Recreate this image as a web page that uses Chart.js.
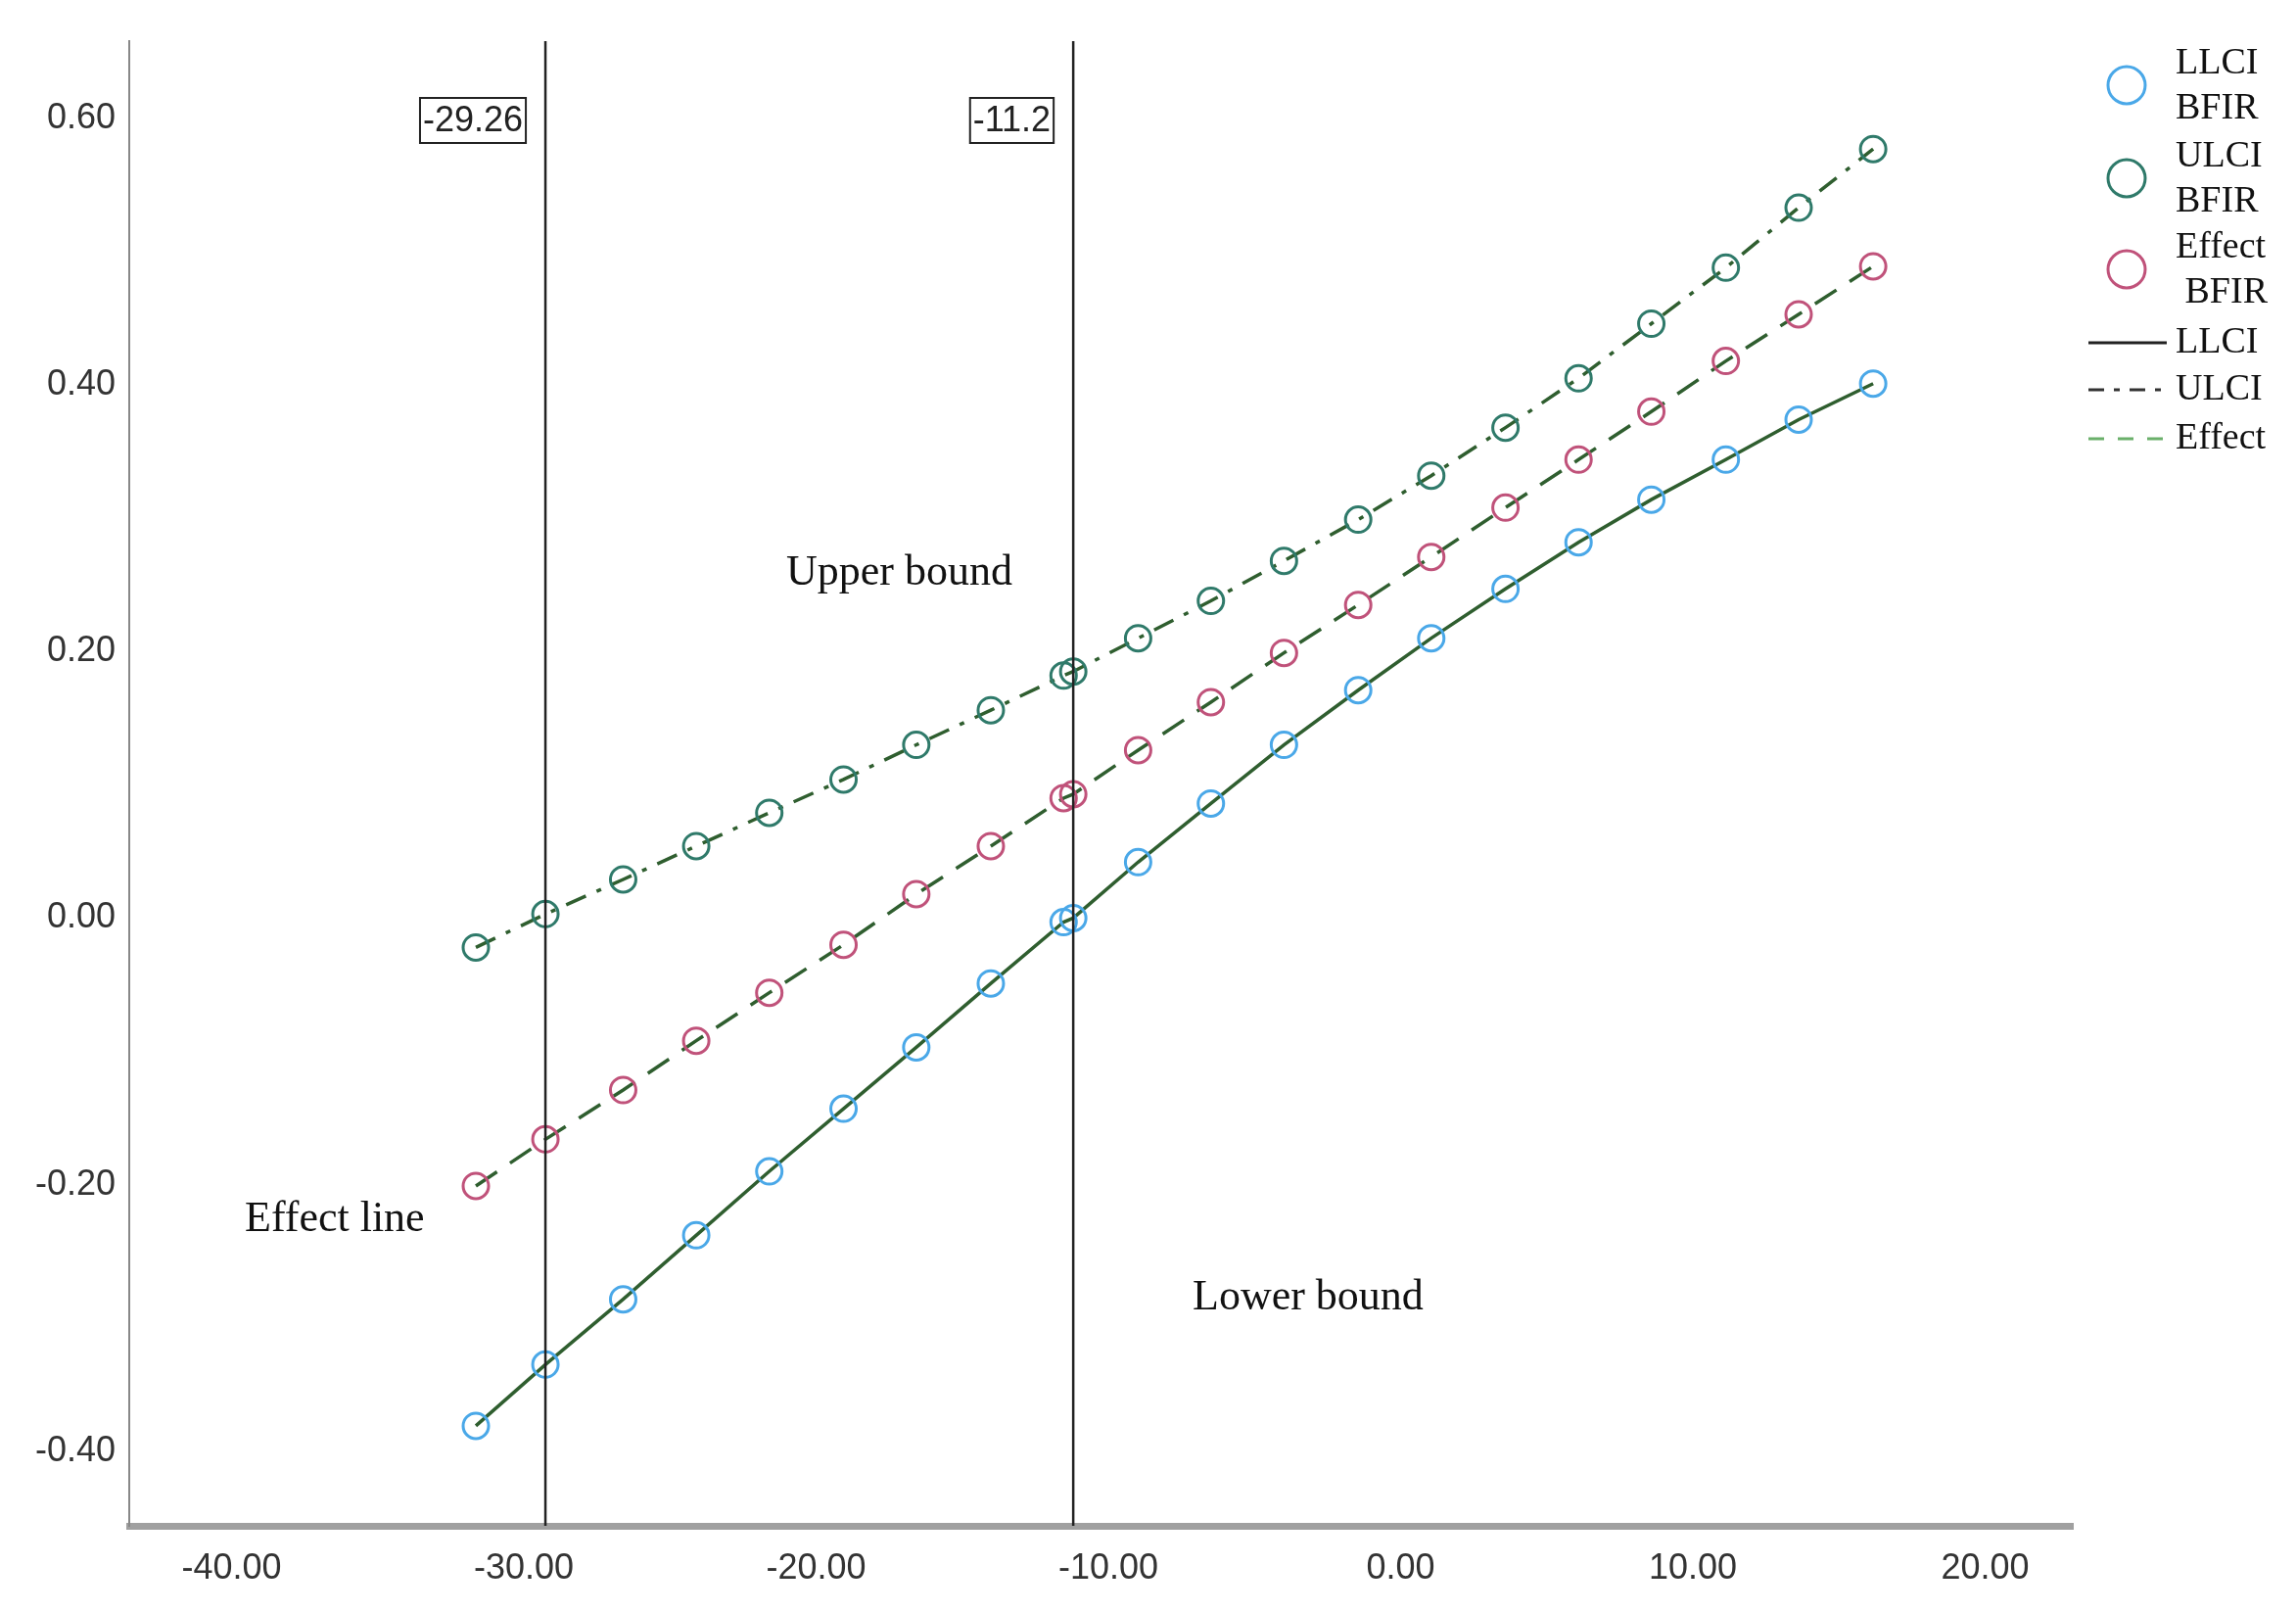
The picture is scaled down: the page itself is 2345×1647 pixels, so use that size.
<!DOCTYPE html>
<html>
<head>
<meta charset="utf-8">
<script src="https://cdn.jsdelivr.net/npm/chart.js@4.4.0/dist/chart.umd.min.js"></script>
<style>
  html, body { margin: 0; padding: 0; background: #fff; }
  #wrap { width: 2345px; height: 1647px; }
</style>
</head>
<body>
<div id="wrap"><canvas id="chart"></canvas></div>
<script>
// moderator values (x) shared by all three series
const xValues = [-31.64, -29.26, -26.6, -24.1, -21.6, -19.06, -16.57, -14.02, -11.53, -11.2,
    -8.98, -6.49, -3.99, -1.45, 1.05, 3.59, 6.09, 8.58, 11.13, 13.62, 16.17];
const ulci = [-0.022, 0.003, 0.029, 0.054, 0.079, 0.104, 0.130, 0.156, 0.182, 0.185,
    0.210, 0.238, 0.268, 0.299, 0.332, 0.368, 0.405, 0.446, 0.488, 0.533, 0.577];
const effect = [-0.201, -0.166, -0.129, -0.092, -0.056, -0.020, 0.018, 0.054, 0.090, 0.093,
    0.126, 0.162, 0.199, 0.235, 0.271, 0.308, 0.344, 0.380, 0.418, 0.453, 0.489];
const llci = [-0.381, -0.335, -0.286, -0.238, -0.190, -0.143, -0.097, -0.049, -0.003, 0.0,
    0.042, 0.086, 0.130, 0.171, 0.210, 0.247, 0.282, 0.314, 0.344, 0.374, 0.401];
const jnPoints = [-29.26, -11.2];
const jnLabels = ['-29.26', '-11.2'];
const xTicks = [-40, -30, -20, -10, 0, 10, 20];
const yTicks = [-0.4, -0.2, 0, 0.2, 0.4, 0.6];

const toPts = ys => xValues.map((x, i) => ({ x: x, y: ys[i] }));
const serif = '"Liberation Serif", "DejaVu Serif", serif';

function series(label, ys, pointColor, dash) {
    return {
        label: label,
        data: toPts(ys),
        showLine: true,
        borderColor: '#2f5e2f',
        borderWidth: 3.5,
        borderDash: dash,
        pointRadius: 13,
        pointHoverRadius: 13,
        pointBorderWidth: 3,
        pointBorderColor: pointColor,
        pointBackgroundColor: 'rgba(0,0,0,0)'
    };
}

const extras = {
    id: 'extras',
    afterDatasetsDraw(chart) {
        const ctx = chart.ctx;
        const xs = chart.scales.x;
        const area = chart.chartArea;
        ctx.save();
        // Johnson-Neyman lines and boxed labels
        ctx.strokeStyle = '#222';
        ctx.lineWidth = 2.5;
        jnPoints.forEach((v, i) => {
            const px = xs.getPixelForValue(v);
            ctx.beginPath();
            ctx.moveTo(px, area.top);
            ctx.lineTo(px, area.bottom);
            ctx.stroke();
            ctx.font = '36px "Liberation Sans", sans-serif';
            const w = ctx.measureText(jnLabels[i]).width + 6;
            ctx.fillStyle = '#fff';
            ctx.fillRect(px - w - 20, 100, w, 46);
            ctx.strokeStyle = '#222';
            ctx.lineWidth = 2;
            ctx.strokeRect(px - w - 20, 100, w, 46);
            ctx.fillStyle = '#222';
            ctx.textBaseline = 'middle';
            ctx.textAlign = 'left';
            ctx.fillText(jnLabels[i], px - w - 17, 124);
            ctx.lineWidth = 2.5;
        });
        // annotations
        ctx.font = '44px ' + serif;
        ctx.fillStyle = '#111';
        ctx.textAlign = 'left';
        ctx.fillText('Upper bound', 803, 585);
        ctx.fillText('Effect line', 250, 1245);
        ctx.fillText('Lower bound', 1218, 1325);

        // legend
        const lx = 2172, tx = 2222;
        ctx.font = '38px ' + serif;
        ctx.textBaseline = 'middle';
        const marks = [['#4aa8e8', 'LLCI', 'BFIR', 87], ['#2f7a6a', 'ULCI', 'BFIR', 182], ['#c0527a', 'Effect', ' BFIR', 275]];
        marks.forEach(m => {
            ctx.beginPath();
            ctx.arc(lx, m[3], 19, 0, Math.PI * 2);
            ctx.strokeStyle = m[0];
            ctx.lineWidth = 3;
            ctx.stroke();
            ctx.fillStyle = '#111';
            ctx.fillText(m[1], tx, m[3] - 22);
            ctx.fillText(m[2], tx, m[3] + 24);
        });
        const lines = [['#222', [], 'LLCI', 350], ['#333', [16, 10, 6, 10], 'ULCI', 398], ['#6ab06a', [16, 14], 'Effect', 448]];
        lines.forEach(l => {
            ctx.beginPath();
            ctx.setLineDash(l[1]);
            ctx.strokeStyle = l[0];
            ctx.lineWidth = 3;
            ctx.moveTo(2133, l[3]);
            ctx.lineTo(2213, l[3]);
            ctx.stroke();
            ctx.setLineDash([]);
            ctx.fillStyle = '#111';
            ctx.fillText(l[2], tx, l[3]);
        });
        ctx.restore();
    }
};

new Chart(document.getElementById('chart'), {
    type: 'scatter',
    data: {
        datasets: [
            series('ULCI', ulci, '#2f7a6a', [22, 12, 5, 12]),
            series('Effect', effect, '#c0527a', [26, 16]),
            series('LLCI', llci, '#4aa8e8', [])
        ]
    },
    options: {
        responsive: true,
        maintainAspectRatio: false,
        animation: false,
        layout: { padding: { top: 42, right: 228, bottom: 8, left: 0 } },
        plugins: { legend: { display: false }, tooltip: { enabled: false } },
        scales: {
            x: {
                type: 'linear', min: -43.5, max: 23,
                afterBuildTicks: s => { s.ticks = xTicks.map(v => ({ value: v })); },
                afterFit: s => { s.height = 81; },
                grid: { display: false, drawTicks: false },
                border: { color: '#a0a0a0', width: 7 },
                ticks: {
                    color: '#333', padding: 22,
                    font: { size: 36, family: '"Liberation Sans", sans-serif' },
                    callback: v => v.toFixed(2)
                }
            },
            y: {
                type: 'linear', min: -0.456, max: 0.658,
                afterBuildTicks: s => { s.ticks = yTicks.map(v => ({ value: v })); },
                afterFit: s => { s.width = 132; },
                grid: { display: false, drawTicks: false },
                border: { color: '#888', width: 2 },
                ticks: {
                    color: '#333', padding: 14,
                    font: { size: 36, family: '"Liberation Sans", sans-serif' },
                    callback: v => v.toFixed(2)
                }
            }
        }
    },
    plugins: [extras]
});
</script>
</body>
</html>
